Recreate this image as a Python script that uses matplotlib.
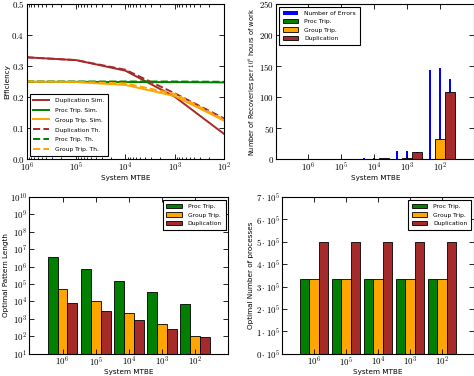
import matplotlib
matplotlib.use("Agg")
import matplotlib.pyplot as plt
import numpy as np
from matplotlib.ticker import FixedLocator, FixedFormatter, NullLocator, LogLocator

plt.rcParams['mathtext.fontset'] = 'cm'
plt.rcParams['font.family'] = ['DejaVu Sans']

# ---------------- data ----------------
mtbe = [1e6, 1e5, 1e4, 1e3, 1e2]
mtbe_labels = [r'$10^{6}$', r'$10^{5}$', r'$10^{4}$', r'$10^{3}$', r'$10^{2}$']

eff_dup_sim = [0.328, 0.319, 0.285, 0.201, 0.081]
eff_proc_sim = [0.249, 0.249, 0.248, 0.248, 0.247]
eff_group_sim = [0.249, 0.248, 0.239, 0.203, 0.124]
eff_dup_th = [0.328, 0.319, 0.288, 0.212, 0.131]
eff_proc_th = [0.25, 0.25, 0.25, 0.25, 0.249]
eff_group_th = [0.25, 0.249, 0.244, 0.210, 0.127]

errors_proc = [0.0, 0.2, 1.5, 13.5, 143.5]
errors_group = [0.0, 0.2, 1.5, 14.0, 147.0]
errors_dup = [0.0, 0.2, 1.2, 11.5, 129.0]
recov_proc = [0.0, 0.0, 0.0, 0.0, 0.0]
recov_group = [0.0, 0.0, 0.2, 1.5, 32.0]
recov_dup = [0.0, 0.0, 1.3, 12.0, 109.0]

pattern_proc = [3.4e6, 7.3e5, 1.57e5, 3.3e4, 7.5e3]
pattern_group = [5.0e4, 1.07e4, 2.3e3, 5.0e2, 1.08e2]
pattern_dup = [8.5e3, 2.7e3, 8.6e2, 2.7e2, 8.7e1]

procs_proc = [3.33e5, 3.33e5, 3.33e5, 3.33e5, 3.33e5]
procs_group = [3.33e5, 3.33e5, 3.33e5, 3.33e5, 3.33e5]
procs_dup = [5e5, 5e5, 5e5, 5e5, 5e5]

# ---------------- style ----------------
C_GREEN = '#007f00'
C_ORANGE = '#ffa500'
C_RED = '#a52a2a'
C_BLUE = '#0000ff'
LABEL_FS = 5.2
TICK_FS = 6.4
LEG_FS = 4.3

fig = plt.figure(figsize=(4.74, 3.76), dpi=100)
W, H = 474.0, 376.0

def add_ax(l, t, r, b):
    return fig.add_axes([l / W, 1 - b / H, (r - l) / W, (b - t) / H])

ax1 = add_ax(26.7, 4, 224, 159)
ax2 = add_ax(276.3, 4, 474.5, 159.3)
ax3 = add_ax(29.3, 197, 228.5, 353.7)
ax4 = add_ax(282, 197, 474, 353.7)

def style(ax):
    ax.tick_params(which='both', direction='in', top=True, right=True,
                   labelsize=TICK_FS, width=0.6, pad=1.5)
    ax.tick_params(axis='x', which='both', pad=1.0)
    ax.tick_params(which='major', length=3.5)
    ax.tick_params(which='minor', length=1.8)
    for s in ax.spines.values():
        s.set_linewidth(0.8)

def legend(ax, loc, spacing):
    leg = ax.legend(loc=loc, fontsize=LEG_FS, fancybox=False, edgecolor='black',
                    framealpha=1, handlelength=2.6, borderpad=0.6, labelspacing=spacing,
                    handletextpad=1.0, borderaxespad=0.5)
    leg.get_frame().set_linewidth(0.8)
    return leg

# ---- panel 1: efficiency ----
lw = 1.4
ax1.plot(mtbe, eff_dup_sim, color=C_RED, lw=lw, label='Duplication Sim.')
ax1.plot(mtbe, eff_proc_sim, color=C_GREEN, lw=lw, label='Proc Trip. Sim.')
ax1.plot(mtbe, eff_group_sim, color=C_ORANGE, lw=lw, label='Group Trip. Sim.')
ax1.plot(mtbe, eff_dup_th, color=C_RED, lw=lw, ls='--', label='Duplication Th.')
ax1.plot(mtbe, eff_proc_th, color=C_GREEN, lw=lw, ls='--', label='Proc Trip. Th.')
ax1.plot(mtbe, eff_group_th, color=C_ORANGE, lw=lw, ls='--', label='Group Trip. Th.')
ax1.set_xscale('log')
ax1.set_xlim(1e6, 1e2)
ax1.set_ylim(0, 0.5)
ax1.xaxis.set_major_locator(FixedLocator(mtbe))
ax1.xaxis.set_major_formatter(FixedFormatter(mtbe_labels))
ax1.xaxis.set_minor_locator(LogLocator(base=10, subs=np.arange(2, 10)))
yt = [0.0, 0.1, 0.2, 0.3, 0.4, 0.5]
ax1.yaxis.set_major_locator(FixedLocator(yt))
ax1.yaxis.set_major_formatter(FixedFormatter([r'$%.1f$' % v for v in yt]))
ax1.set_xlabel('System MTBE', fontsize=LABEL_FS, labelpad=1)
ax1.set_ylabel('Efficiency', fontsize=LABEL_FS, labelpad=1)
style(ax1)
legend(ax1, 'lower left', 0.8)

# ---- panel 2: recoveries ----
idx = np.arange(len(mtbe))
bw = 0.3
ew = 0.05
ax2.bar(idx + 0.5 * bw, errors_proc, ew, color=C_BLUE, edgecolor='none', label='Number of Errors', zorder=1)
ax2.bar(idx + 1.5 * bw, errors_group, ew, color=C_BLUE, edgecolor='none', zorder=1)
ax2.bar(idx + 2.5 * bw, errors_dup, ew, color=C_BLUE, edgecolor='none', zorder=1)
ax2.bar(idx, recov_proc, bw, align='edge', color=C_GREEN, edgecolor='black', lw=0.6, label='Proc Trip.', zorder=2)
ax2.bar(idx + bw, recov_group, bw, align='edge', color=C_ORANGE, edgecolor='black', lw=0.6, label='Group Trip.', zorder=2)
ax2.bar(idx + 2 * bw, recov_dup, bw, align='edge', color=C_RED, edgecolor='black', lw=0.6, label='Duplication', zorder=2)
ax2.set_xlim(-0.5, 5.5)
ax2.set_ylim(0, 250)
ax2.xaxis.set_major_locator(FixedLocator(idx + 1.5 * bw))
ax2.xaxis.set_major_formatter(FixedFormatter(mtbe_labels))
yt2 = [0, 50, 100, 150, 200, 250]
ax2.yaxis.set_major_locator(FixedLocator(yt2))
ax2.yaxis.set_major_formatter(FixedFormatter([r'$%d$' % v for v in yt2]))
ax2.set_xlabel('System MTBE', fontsize=LABEL_FS, labelpad=1)
ax2.set_ylabel(r'Number of Recoveries per $10^6$ hours of work', fontsize=4.8, labelpad=1)
style(ax2)
legend(ax2, 'upper left', 0.55)

# ---- panel 3: pattern length ----
ax3.bar(idx, pattern_proc, bw, align='edge', color=C_GREEN, edgecolor='black', lw=0.6, label='Proc Trip.')
ax3.bar(idx + bw, pattern_group, bw, align='edge', color=C_ORANGE, edgecolor='black', lw=0.6, label='Group Trip.')
ax3.bar(idx + 2 * bw, pattern_dup, bw, align='edge', color=C_RED, edgecolor='black', lw=0.6, label='Duplication')
ax3.set_yscale('log')
ax3.set_ylim(1e1, 1e10)
ax3.set_xlim(-0.55, 5.45)
ax3.xaxis.set_major_locator(FixedLocator(idx + 1.5 * bw))
ax3.xaxis.set_major_formatter(FixedFormatter(mtbe_labels))
yt3 = [10.0 ** k for k in range(1, 11)]
ax3.yaxis.set_major_locator(FixedLocator(yt3))
ax3.yaxis.set_major_formatter(FixedFormatter([r'$10^{%d}$' % k for k in range(1, 11)]))
ax3.yaxis.set_minor_locator(NullLocator())
ax3.set_xlabel('System MTBE', fontsize=LABEL_FS, labelpad=0.5)
ax3.set_ylabel('Optimal Pattern Length', fontsize=LABEL_FS, labelpad=1)
style(ax3)
legend(ax3, 'upper right', 0.6)

# ---- panel 4: number of processes ----
ax4.bar(idx, procs_proc, bw, align='edge', color=C_GREEN, edgecolor='black', lw=0.6, label='Proc Trip.')
ax4.bar(idx + bw, procs_group, bw, align='edge', color=C_ORANGE, edgecolor='black', lw=0.6, label='Group Trip.')
ax4.bar(idx + 2 * bw, procs_dup, bw, align='edge', color=C_RED, edgecolor='black', lw=0.6, label='Duplication')
ax4.set_xlim(-0.55, 5.45)
ax4.set_ylim(0, 7e5)
ax4.xaxis.set_major_locator(FixedLocator(idx + 1.5 * bw))
ax4.xaxis.set_major_formatter(FixedFormatter(mtbe_labels))
yt4 = [k * 1e5 for k in range(0, 8)]
ax4.yaxis.set_major_locator(FixedLocator(yt4))
ax4.yaxis.set_major_formatter(FixedFormatter([r'$%d\cdot10^{5}$' % k for k in range(0, 8)]))
ax4.set_xlabel('System MTBE', fontsize=LABEL_FS, labelpad=0.5)
ax4.set_ylabel('Optimal Number of processes', fontsize=LABEL_FS, labelpad=1)
style(ax4)
legend(ax4, 'upper right', 0.6)

fig.savefig('out.png', dpi=100, facecolor='white')
